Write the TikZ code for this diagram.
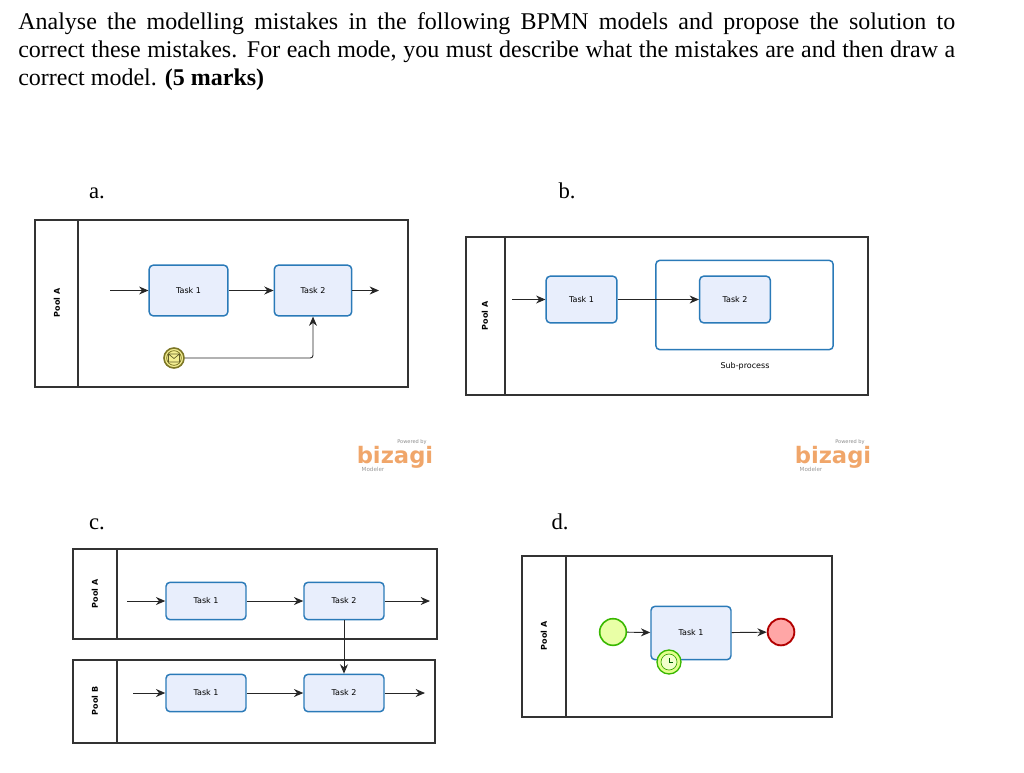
\documentclass[tikz,border=0pt]{standalone}
\usepackage{fontspec}
\setmainfont{Liberation Serif}
\newfontfamily\sansf{DejaVu Sans}
\usetikzlibrary{arrows.meta}
\definecolor{taskfill}{HTML}{E8EEFC}
\definecolor{taskdraw}{HTML}{2A7AB8}
\definecolor{bzorange}{HTML}{F0A66A}
\begin{document}
\begin{tikzpicture}[x=0.75pt,y=-0.75pt,
  pool/.style={draw=black!80,line width=0.8pt},
  task/.style={draw=taskdraw,fill=taskfill,line width=1.1pt,rounded corners=3pt},
  tlabel/.style={font=\sansf\fontsize{6}{7}\selectfont},
  plabel/.style={font=\sansf\bfseries\fontsize{6}{7}\selectfont,rotate=90},
  flow/.style={draw=black!85,line width=0.7pt,-{Stealth[length=7pt,width=6pt]}},
  qlabel/.style={font=\fontsize{17}{20}\selectfont,anchor=base},
  qline/.style={anchor=base west,inner sep=0,font=\fontsize{18}{21}\selectfont}]
\useasboundingbox (0,0) rectangle (1024,772);
% question
\node[qline] (l1) at (18,29) {\makebox[702.75pt][s]{Analyse the modelling mistakes in the following BPMN models and propose the solution to}};
\node[qline] (l2) at (18,57) {\makebox[702.75pt][s]{correct these mistakes. For each mode, you must describe what the mistakes are and then draw a}};
\node[qline] (l3) at (18,85) {correct model. \textbf{(5 marks)}};
\node[qlabel] (la) at (97,198) {a.};
\node[qlabel] (lb) at (567,198) {b.};
\node[qlabel] (lc) at (97,529) {c.};
\node[qlabel] (ld) at (560,529) {d.};
% ---- a
\draw[pool] (35,220) rectangle (408,387); \draw[pool] (78,220) -- (78,387);
\node[plabel] (pa) at (57,303) {Pool A};
\node[task,minimum width=59pt,minimum height=38pt] (a1) at (188.5,290.5) {}; \node[tlabel] at (a1) {Task 1};
\node[task,minimum width=58pt,minimum height=38pt] (a2) at (313,290.5) {}; \node[tlabel] at (a2) {Task 2};
\coordinate (ain) at (110,290.5); \coordinate (aout) at (379,290.5);
\draw[flow] (ain) -- (a1); \draw[flow] (a1) -- (a2); \draw[flow] (a2) -- (aout);
\node[circle,draw=olive!80!yellow!70!black,fill=olive!25!yellow!40,line width=1.2pt,minimum size=15pt,inner sep=0] (am) at (174,358) {};
\node[circle,draw=olive!80!yellow!70!black,minimum size=11pt,inner sep=0,line width=0.6pt] at (am) {};
\draw[olive!60!black,line width=0.5pt] (168.5,354) rectangle (179.5,362) (168.5,354) -- (174,358.5) -- (179.5,354);
\draw[flow,rounded corners=2pt] (am) -- (313,358) -- (a2.south);
% ---- b
\draw[pool] (466,237) rectangle (868,395); \draw[pool] (505,237) -- (505,395);
\node[plabel] (pb) at (485,316) {Pool A};
\node[task,minimum width=53pt,minimum height=35pt] (b1) at (581.5,299.5) {}; \node[tlabel] at (b1) {Task 1};
\node[draw=taskdraw,line width=1.1pt,rounded corners=3pt,minimum width=133pt,minimum height=67pt] (bs) at (744.5,305) {};
\node[task,minimum width=53pt,minimum height=35pt] (b2) at (735,299.5) {}; \node[tlabel] at (b2) {Task 2};
\node[tlabel] (bsl) at (745,366) {Sub-process};
\coordinate (bin) at (512,299.5);
\draw[flow] (bin) -- (b1); \draw[flow] (b1) -- (b2);
% bizagi logos
\foreach \x/\n in {395/z1,833/z2}{
 \node[font=\sansf\fontsize{3.8}{4}\selectfont,text=black!45] at (\x+17,442) {Powered by};
 \node[font=\sansf\bfseries\fontsize{17}{18}\selectfont,text=bzorange] (\n) at (\x,457) {bizagi};
 \node[font=\sansf\fontsize{4.2}{5}\selectfont,text=black!40] at (\x-22,469) {Modeler};
}
% ---- c
\draw[pool] (73,549) rectangle (437,639); \draw[pool] (117,549) -- (117,639);
\node[plabel] (pc1) at (95,594) {Pool A};
\draw[pool] (73,660) rectangle (435,743); \draw[pool] (117,660) -- (117,743);
\node[plabel] (pc2) at (95,701) {Pool B};
\node[task,minimum width=60pt,minimum height=28pt] (c1) at (206,601) {}; \node[tlabel] at (c1) {Task 1};
\node[task,minimum width=60pt,minimum height=28pt] (c2) at (344,601) {}; \node[tlabel] at (c2) {Task 2};
\node[task,minimum width=60pt,minimum height=28pt] (c3) at (206,693) {}; \node[tlabel] at (c3) {Task 1};
\node[task,minimum width=60pt,minimum height=28pt] (c4) at (344,693) {}; \node[tlabel] at (c4) {Task 2};
\coordinate (cin1) at (127,601); \coordinate (cout1) at (430,601);
\coordinate (cin2) at (133,693); \coordinate (cout2) at (425,693);
\draw[flow] (cin1) -- (c1); \draw[flow] (c1) -- (c2); \draw[flow] (c2) -- (cout1);
\draw[flow] (cin2) -- (c3); \draw[flow] (c3) -- (c4); \draw[flow] (c4) -- (cout2);
\draw[flow] (c2) -- (c4);
% ---- d
\draw[pool] (522,556) rectangle (832,717); \draw[pool] (566,556) -- (566,717);
\node[plabel] (pd) at (544,636) {Pool A};
\node[circle,draw=green!60!black!70!lime,fill=lime!35,line width=1.2pt,minimum size=20pt,inner sep=0] (ds) at (613,632) {};
\node[task,minimum width=60pt,minimum height=40pt] (d1) at (691,633) {}; \node[tlabel] at (d1) {Task 1};
\node[circle,draw=red!70!black,fill=red!35,line width=1.4pt,minimum size=20pt,inner sep=0] (de) at (781,632) {};
\draw[flow] (ds) -- (d1); \draw[flow] (d1) -- (de);
\node[circle,draw=green!60!black!70!lime,fill=lime!45,line width=1pt,minimum size=18pt,inner sep=0] (dt) at (669,662) {};
\node[circle,draw=green!50!black!70!lime,fill=lime!20,line width=0.5pt,minimum size=12pt,inner sep=0] at (dt) {};
\draw[green!40!black,line width=0.5pt] (669,662) -- (669,657.5) (669,662) -- (672.5,662);
\end{tikzpicture}
\end{document}
